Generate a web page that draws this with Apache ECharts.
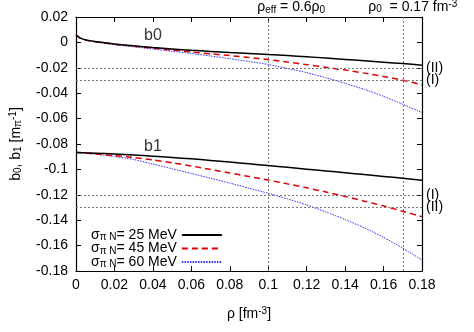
<!DOCTYPE html>
<html><head><meta charset="utf-8">
<script src="https://cdn.jsdelivr.net/npm/echarts@6/dist/echarts.min.js"></script>
<style>html,body{margin:0;padding:0;background:#fff}#c{width:474px;height:332px}</style>
</head><body><div id="c"></div>
<script>
const rho = [0, 0.002, 0.005, 0.01, 0.02, 0.03, 0.04, 0.05, 0.06, 0.07, 0.08, 0.09, 0.1, 0.11, 0.12, 0.13, 0.14, 0.15, 0.16, 0.17, 0.18];
const b0_25 = [0.006, 0.0035, 0.002, 0.0007, -0.0012, -0.0027, -0.0041, -0.0052, -0.0062, -0.0071, -0.008, -0.0088, -0.0096, -0.0104, -0.0113, -0.0123, -0.0134, -0.0145, -0.0156, -0.0167, -0.0179];
const b0_45 = [0.006, 0.0035, 0.0019, 0.0005, -0.0015, -0.003, -0.0045, -0.006, -0.0075, -0.009, -0.0104, -0.0119, -0.0135, -0.0155, -0.0175, -0.0196, -0.0218, -0.0242, -0.0268, -0.0298, -0.0333];
const b0_60 = [0.006, 0.0035, 0.0018, 0.0003, -0.0017, -0.0035, -0.0052, -0.007, -0.0087, -0.0107, -0.0128, -0.015, -0.0174, -0.0205, -0.0238, -0.0278, -0.0322, -0.037, -0.0425, -0.0487, -0.0553];
const b1_25 = [-0.0866, -0.0867, -0.0869, -0.0872, -0.0879, -0.0887, -0.0896, -0.0906, -0.0917, -0.0929, -0.0942, -0.0956, -0.097, -0.0984, -0.0998, -0.1012, -0.1026, -0.1041, -0.1055, -0.107, -0.1085];
const b1_45 = [-0.0866, -0.0868, -0.0871, -0.0878, -0.0892, -0.0906, -0.0925, -0.0948, -0.0973, -0.1, -0.1028, -0.1056, -0.1084, -0.1114, -0.1145, -0.1178, -0.1213, -0.125, -0.1288, -0.133, -0.1372];
const b1_60 = [-0.0866, -0.0868, -0.0872, -0.088, -0.0898, -0.0922, -0.0958, -0.0995, -0.1032, -0.107, -0.1108, -0.1148, -0.1188, -0.1232, -0.128, -0.1335, -0.1395, -0.146, -0.1535, -0.162, -0.1713];
const seriesNames = ['25', '45', '60'];
const vLines = [0.102, 0.17];
const hLinesB0 = [-0.023, -0.0288];
const hLabelsB0 = ['(II)', '(I)'];
const hLinesB1 = [-0.1196, -0.1262];
const hLabelsB1 = ['(I)', '(II)'];
const xTicks = [0, 0.18, 0.02];
const yTicks = [-0.18, 0.02, 0.02];

const FONT = 'Liberation Sans';
const FS = 14;
const pair = (ys) => rho.map((x, i) => [x, ys[i]]);
const fmt = v => { const r = Math.round(v * 1000) / 1000; return r === 0 ? '0' : String(r); };
const richBase = {
  n: {fontFamily: FONT, fontSize: FS, color: '#000'},
  sub: {fontFamily: FONT, fontSize: 10, color: '#000', padding: [5, 0, 0, 0]},
  sup: {fontFamily: FONT, fontSize: 10, color: '#000', padding: [0, 0, 6, 0]},
  g: {fontFamily: FONT, fontSize: FS, color: '#000'}
};
const styles = [
  {color: '#000000', type: 'solid', width: 1.5},
  {color: '#e00000', type: [6, 4], width: 1.5},
  {color: '#3030ff', type: [1.5, 1.2], width: 1}
];
const hLine = (vals, labels, pads) => vals.map((v, i) => ({
  yAxis: v,
  label: {show: true, position: 'end', formatter: labels[i], fontFamily: FONT, fontSize: FS, color: '#000', distance: 4, padding: pads[i]}
}));
const dotted = {color: '#777', type: [2, 2], width: 1};

const series = [];
const b0s = [b0_25, b0_45, b0_60], b1s = [b1_25, b1_45, b1_60];
for (let k = 0; k < 3; k++) {
  series.push({name: seriesNames[k], type: 'line', data: pair(b0s[k]), symbol: 'none', showSymbol: false, smooth: 0.2, lineStyle: styles[k], itemStyle: {color: styles[k].color}, z: 5 - k});
  series.push({name: seriesNames[k], type: 'line', data: pair(b1s[k]), symbol: 'none', showSymbol: false, smooth: 0.2, lineStyle: styles[k], itemStyle: {color: styles[k].color}, z: 5 - k});
}
series.push({
  type: 'line', data: [], silent: true,
  markLine: {
    silent: true, symbol: 'none', lineStyle: dotted, animation: false,
    data: [
      {xAxis: vLines[0], label: {show: true, position: 'end', distance: 2, padding: [0, 0, 0, 46],
        formatter: '{g|ρ}{sub|eff}{n| = 0.6ρ}{sub|0}', rich: richBase}},
      {xAxis: vLines[1], label: {show: true, position: 'end', distance: 2, padding: [0, 0, 0, 20],
        formatter: '{g|ρ}{sub|0}{n|  = 0.17 fm}{sup|-3}', rich: richBase}},
      ...hLine(hLinesB0, hLabelsB0, [[0, 0, 6, 0], [4, 0, 0, 0]]),
      ...hLine(hLinesB1, hLabelsB1, [[0, 0, 0, 0], [0, 0, 0, 0]])
    ]
  }
});
series.push({
  type: 'scatter', symbolSize: 0, silent: true,
  data: [[0.040, 0.005, 'b0'], [0.040, -0.0824, 'b1']],
  label: {show: true, position: 'inside', formatter: p => p.data[2], fontFamily: FONT, fontSize: 16, color: '#000'}
});

const axisCommon = {
  axisLine: {show: true, onZero: false, lineStyle: {color: '#000', width: 1.2}},
  axisTick: {show: true, inside: true, length: 5, lineStyle: {color: '#000'}},
  splitLine: {show: false}
};
const option = {
  animation: false,
  grid: {left: 75, right: 52, top: 17, bottom: 61, containLabel: false},
  legend: {
    orient: 'vertical', left: 86, top: 223, align: 'right', itemWidth: 40, itemHeight: 10, itemGap: -1,
    data: seriesNames,
    itemStyle: {opacity: 0},
    formatter: n => '{g|σ}{sub|π N}{n|= ' + n + ' MeV}',
    textStyle: {rich: richBase, fontFamily: FONT, fontSize: FS, padding: [0, 0, 0, 0]}
  },
  xAxis: [
    Object.assign({type: 'value', min: xTicks[0], max: xTicks[1], interval: xTicks[2], position: 'bottom',
      axisLabel: {formatter: fmt, fontFamily: FONT, fontSize: FS, color: '#000', margin: 7},
      name: '{g|ρ}{n| [fm}{sup|-3}{n|]}', nameLocation: 'middle', nameGap: 35,
      nameTextStyle: {rich: richBase}}, axisCommon),
    Object.assign({type: 'value', min: xTicks[0], max: xTicks[1], interval: xTicks[2], position: 'top',
      axisLabel: {show: false}}, axisCommon)
  ],
  yAxis: [
    Object.assign({type: 'value', min: yTicks[0], max: yTicks[1], interval: yTicks[2], position: 'left',
      axisLabel: {formatter: fmt, fontFamily: FONT, fontSize: FS, color: '#000', margin: 8},
      name: '{n|b}{sub|0}{n|, b}{sub|1}{n| [m}{sub|π}{sup|-1}{n|]}', nameLocation: 'middle', nameGap: 52,
      nameTextStyle: {rich: richBase}}, axisCommon),
    Object.assign({type: 'value', min: yTicks[0], max: yTicks[1], interval: yTicks[2], position: 'right',
      axisLabel: {show: false}}, axisCommon)
  ],
  series: series
};
const chart = echarts.init(document.getElementById('c'), null, {renderer: 'canvas'});
chart.setOption(option);
</script></body></html>
